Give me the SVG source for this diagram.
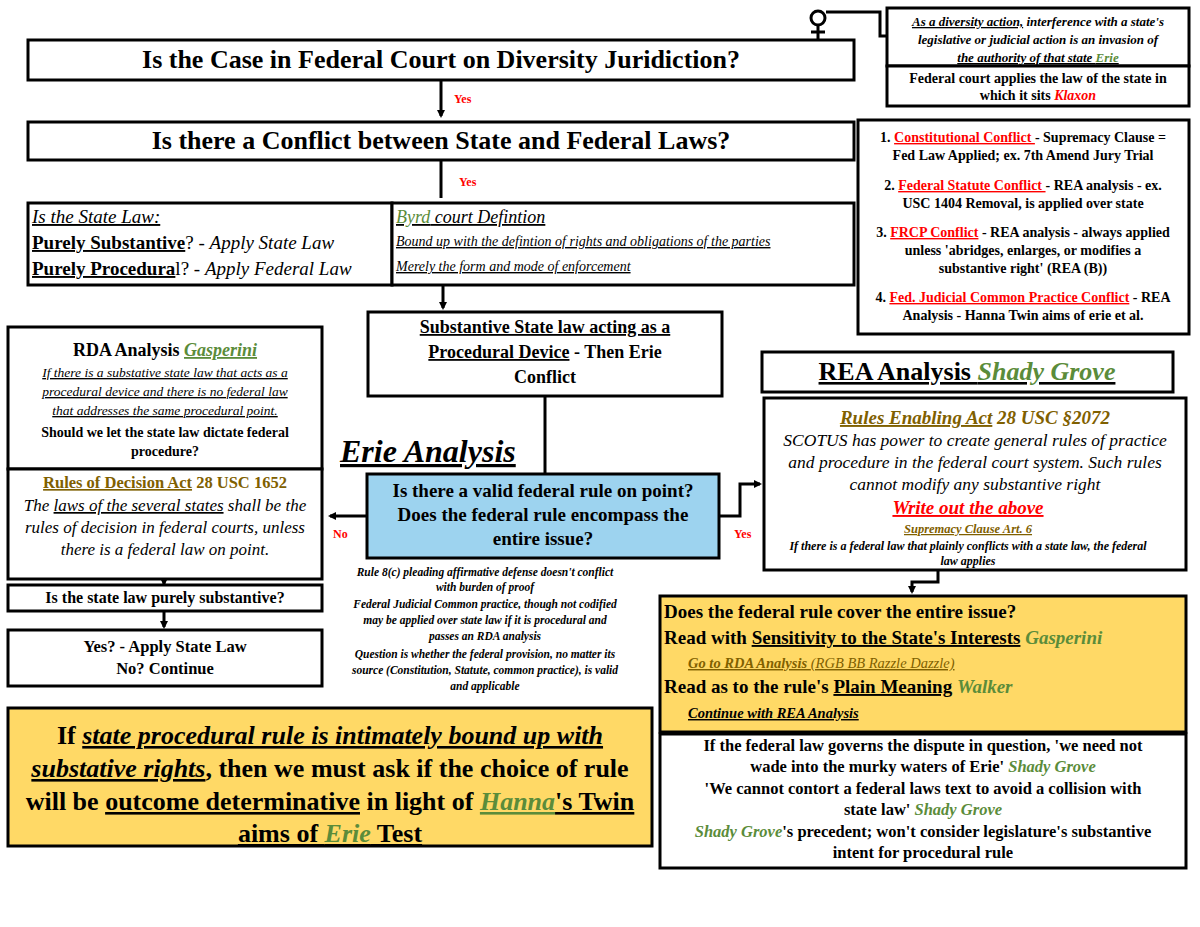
<svg xmlns="http://www.w3.org/2000/svg" width="1200" height="927" viewBox="0 0 1200 927">
<style>
text{font-family:'Liberation Serif','DejaVu Serif','Times New Roman',serif;font-weight:bold;fill:#000}
.b{fill:#fff;stroke:#000;stroke-width:3}
.y{fill:#ffd966;stroke:#000;stroke-width:3}
.c{stroke:#000;stroke-width:3;fill:none}
.m{text-anchor:middle}
.i{font-style:italic}
.u{text-decoration:underline}
.r{fill:#f00}
.g{fill:#5b8c3a}
.o{fill:#7f6000}
.n{font-weight:normal}
</style>
<defs><marker id="a" markerWidth="8" markerHeight="8" refX="6" refY="4" orient="auto" markerUnits="userSpaceOnUse"><path d="M0,0L8,4L0,8z" fill="#000"/></marker></defs>
<g id="connectors">
<path class="c" d="M441,80V116" marker-end="url(#a)"/>
<path class="c" d="M441,160V198"/>
<path class="c" d="M443,285V308" marker-end="url(#a)"/>
<path class="c" d="M545,396V474"/>
<path class="c" d="M367,516H330" marker-end="url(#a)"/>
<path class="c" d="M719,516H740V484H760" marker-end="url(#a)"/>
<path class="c" d="M938,570V582H912V592" marker-end="url(#a)"/>
<path class="c" d="M164,579V584" marker-end="url(#a)"/>
<path class="c" d="M164,611V627" marker-end="url(#a)"/>
<path class="c" d="M826,12H880V36H888"/>
<circle cx="818" cy="18" r="7" class="c"/><path class="c" d="M818,25V40M811,32H825"/>
<text x="454" y="103" font-size="12" class="r">Yes</text>
<text x="459" y="186" font-size="12" class="r">Yes</text>
<text x="333" y="538" font-size="12" class="r">No</text>
<text x="734" y="538" font-size="12" class="r">Yes</text>
</g>
<g id="q1"><rect class="b" x="28" y="40" width="826" height="40"/><text x="441" y="68" font-size="26" class="m">Is the Case in Federal Court on Diversity Juridiction?</text></g>
<g id="erieNote"><rect class="b" x="887" y="8" width="302" height="58"/>
<text x="1038" y="26" font-size="13" class="m i"><tspan class="u">As a diversity action,</tspan> interference with a state's</text>
<text x="1038" y="44" font-size="13" class="m i">legislative or judicial action is an invasion of</text>
<text x="1038" y="62" font-size="13" class="m i u">the authority of that state <tspan class="g">Erie</tspan></text></g>
<g id="klaxon"><rect class="b" x="887" y="66" width="302" height="40"/>
<text x="1038" y="83" font-size="14" class="m">Federal court applies the law of the state in</text>
<text x="1038" y="100" font-size="14" class="m">which it sits <tspan class="r i">Klaxon</tspan></text></g>
<g id="q2"><rect class="b" x="28" y="122" width="826" height="38"/><text x="441" y="149" font-size="26" class="m">Is there a Conflict between State and Federal  Laws?</text></g>
<g id="conflicts"><rect class="b" x="858" y="120" width="331" height="214"/>
<g font-size="14">
<text x="1023" y="142" class="m">1. <tspan class="r u">Constitutional Conflict </tspan>- Supremacy Clause =</text>
<text x="1023" y="160" class="m">Fed Law Applied; ex. 7th Amend Jury Trial</text>
<text x="1023" y="190" class="m">2. <tspan class="r u">Federal Statute Conflict </tspan>- REA analysis - ex.</text>
<text x="1023" y="208" class="m">USC 1404 Removal, is applied over state</text>
<text x="1023" y="237" class="m">3. <tspan class="r u">FRCP Conflict</tspan> - REA analysis - always applied</text>
<text x="1023" y="255" class="m">unless 'abridges, enlarges, or modifies a</text>
<text x="1023" y="273" class="m">substantive right' (REA (B))</text>
<text x="1023" y="302" class="m">4. <tspan class="r u">Fed. Judicial Common Practice Conflict</tspan> - REA</text>
<text x="1023" y="320" class="m">Analysis - Hanna Twin aims of erie et al.</text></g></g>
<g id="stateLaw"><rect class="b" x="28" y="203" width="364" height="82"/>
<text x="32" y="223" font-size="19" class="i n u">Is the State Law:</text>
<text x="32" y="249" font-size="19"><tspan class="u">Purely Substantive</tspan><tspan class="n">? - </tspan><tspan class="i n">Apply State Law</tspan></text>
<text x="32" y="275" font-size="19"><tspan class="u">Purely Procedura</tspan><tspan class="n">l? - </tspan><tspan class="i n">Apply Federal Law</tspan></text></g>
<g id="byrd"><rect class="b" x="392" y="203" width="462" height="82"/>
<text x="396" y="223" font-size="18" class="i n u"><tspan class="g">Byrd</tspan> court Defintion</text>
<text x="396" y="246" font-size="14" class="i n u">Bound up with the defintion of rights and obligations of the parties</text>
<text x="396" y="271" font-size="14" class="i n u">Merely the form and mode of enforcement</text></g>
<g id="substProc"><rect class="b" x="368" y="312" width="354" height="84"/>
<text x="545" y="333" font-size="18" class="m u">Substantive State law acting as a</text>
<text x="545" y="358" font-size="18" class="m"><tspan class="u">Procedural Device</tspan> - Then Erie</text>
<text x="545" y="383" font-size="18" class="m">Conflict</text></g>
<g id="rda"><rect class="b" x="8" y="327" width="314" height="142"/>
<text x="165" y="356" font-size="18" class="m">RDA Analysis <tspan class="g i u">Gasperini</tspan></text>
<text x="165" y="377" font-size="13.5" class="m i n u">If there is a substative state law that acts as a</text>
<text x="165" y="396" font-size="13.5" class="m i n u">procedural device and there is no federal law</text>
<text x="165" y="415" font-size="13.5" class="m i n u">that addresses the same procedural point.</text>
<text x="165" y="437" font-size="14" class="m">Should we let the state law dictate federal</text>
<text x="165" y="456" font-size="14" class="m">procedure?</text></g>
<g id="rod"><rect class="b" x="8" y="469" width="314" height="110"/>
<text x="165" y="488" font-size="16.5" class="m"><tspan class="o u"> Rules of Decision Act</tspan><tspan class="o"> 28 USC 1652</tspan></text>
<text x="165" y="511" font-size="17" class="m i n">The <tspan class="u">laws of the several states</tspan> shall be the</text>
<text x="165" y="533" font-size="17" class="m i n">rules of decision in federal courts, unless</text>
<text x="165" y="555" font-size="17" class="m i n">there is a federal law on point.</text></g>
<text x="340" y="462" font-size="32" class="i u">Erie Analysis</text>
<g id="fedRule"><rect x="367" y="474" width="352" height="84" fill="#9dd3ef" stroke="#000" stroke-width="3"/>
<text x="543" y="497" font-size="19" class="m">Is there a valid federal rule on point?</text>
<text x="543" y="521" font-size="19" class="m">Does the federal rule encompass the</text>
<text x="543" y="545" font-size="19" class="m">entire issue?</text></g>
<g id="notes" font-size="11.5"><text x="485" y="576" class="m i">Rule 8(c) pleading affirmative defense doesn't conflict</text>
<text x="485" y="591" class="m i">with burden of proof</text>
<text x="485" y="608" class="m i">Federal Judicial Common practice, though not codified</text>
<text x="485" y="624" class="m i">may be applied over state law if it is procedural and</text>
<text x="485" y="640" class="m i">passes an RDA analysis</text>
<text x="485" y="658" class="m i">Question is whether the federal provision, no matter its</text>
<text x="485" y="674" class="m i">source (Constitution, Statute, common practice), is valid</text>
<text x="485" y="690" class="m i">and applicable</text></g>
<g id="substQ"><rect class="b" x="8" y="585" width="314" height="26"/><text x="165" y="603" font-size="16" class="m">Is the state law purely substantive?</text></g>
<g id="apply"><rect class="b" x="8" y="630" width="314" height="56"/>
<text x="165" y="652" font-size="16.5" class="m">Yes? - Apply State Law</text>
<text x="165" y="674" font-size="16.5" class="m">No? Continue</text></g>
<g id="hanna"><rect class="y" x="8" y="708" width="644" height="138"/>
<text x="330" y="744" font-size="26" class="m">If <tspan class="i u">state procedural rule is intimately bound up with</tspan></text>
<text x="330" y="777" font-size="26" class="m"><tspan class="i u">substative rights</tspan>, then we must ask if the choice of rule</text>
<text x="330" y="810" font-size="26" class="m">will be <tspan class="u">outcome determinative</tspan> in light of <tspan class="g i u">Hanna</tspan><tspan class="u">'s Twin</tspan></text>
<text x="330" y="842" font-size="26" class="m u">aims of <tspan class="g i">Erie</tspan> Test</text></g>
<g id="reaHead"><rect class="b" x="762" y="352" width="411" height="40"/>
<text x="967" y="380" font-size="26" class="m u">REA Analysis <tspan class="g i">Shady Grove</tspan></text></g>
<g id="rea"><rect class="b" x="764" y="398" width="422" height="172"/>
<text x="975" y="424" font-size="19" class="m i o"><tspan class="u">Rules Enabling Act</tspan> 28 USC §2072</text>
<text x="975" y="446" font-size="17.5" class="m i n">SCOTUS has power to create general rules of practice</text>
<text x="975" y="468" font-size="17.5" class="m i n">and procedure in the federal court system. Such rules</text>
<text x="975" y="490" font-size="17.5" class="m i n">cannot modify any substantive right</text>
<text x="968" y="514" font-size="19" class="m i r u">Write out the above</text>
<text x="968" y="533" font-size="12.5" class="m i u o">Supremacy Clause Art. 6</text>
<text x="968" y="550" font-size="12" class="m i">If there is a federal law that plainly conflicts with a state law, the federal</text>
<text x="968" y="565" font-size="12" class="m i">law applies</text></g>
<g id="cover"><rect class="y" x="660" y="596" width="526" height="136"/>
<text x="664" y="618" font-size="19">Does the federal rule cover the entire issue?</text>
<text x="664" y="644" font-size="19">Read with <tspan class="u">Sensitivity to the State's Interests</tspan> <tspan class="g i">Gasperini</tspan></text>
<text x="688" y="668" font-size="14.5" class="i u o">Go to RDA Analysis <tspan class="n">(RGB BB Razzle Dazzle)</tspan></text>
<text x="664" y="693" font-size="19">Read as to the rule's <tspan class="u">Plain Meaning</tspan> <tspan class="g i">Walker</tspan></text>
<text x="688" y="718" font-size="14.5" class="i u">Continue with REA Analysis</text></g>
<g id="sg"><rect class="b" x="660" y="734" width="526" height="134"/>
<g font-size="16.5"><text x="923" y="751" class="m">If the federal law governs the dispute in question, 'we need not</text>
<text x="923" y="772" class="m">wade into the murky waters of Erie' <tspan class="g i">Shady Grove</tspan></text>
<text x="923" y="794" class="m">'We cannot contort a federal laws text to avoid a collision with</text>
<text x="923" y="815" class="m">state law' <tspan class="g i">Shady Grove</tspan></text>
<text x="923" y="837" class="m"><tspan class="g i">Shady Grove</tspan>'s precedent; won't consider legislature's substantive</text>
<text x="923" y="858" class="m">intent for procedural rule</text></g></g>
</svg>
